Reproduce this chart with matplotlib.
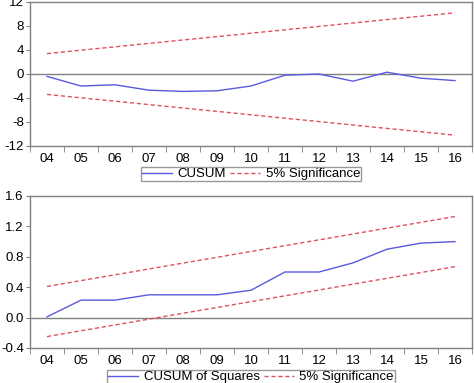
import numpy as np
import matplotlib.pyplot as plt
from matplotlib.ticker import FixedLocator, NullFormatter

plt.rcParams['font.family'] = ['Liberation Sans', 'DejaVu Sans']

years = [4, 5, 6, 7, 8, 9, 10, 11, 12, 13, 14, 15, 16]
year_labels = ['04', '05', '06', '07', '08', '09', '10', '11', '12', '13', '14', '15', '16']

cusum = [-0.4, -2.0, -1.8, -2.7, -2.9, -2.8, -2.0, -0.2, 0.0, -1.2, 0.3, -0.7, -1.1]
cusum_upper = [3.4, 3.97, 4.53, 5.1, 5.67, 6.23, 6.8, 7.37, 7.93, 8.5, 9.07, 9.63, 10.2]
cusum_lower = [-v for v in cusum_upper]

cusumsq = [0.01, 0.23, 0.23, 0.30, 0.30, 0.30, 0.36, 0.60, 0.60, 0.72, 0.90, 0.98, 1.00]
sq_upper = [0.41, 0.487, 0.563, 0.64, 0.717, 0.793, 0.87, 0.947, 1.023, 1.10, 1.177, 1.253, 1.33]
sq_lower = [-0.25, -0.173, -0.097, -0.02, 0.057, 0.133, 0.21, 0.287, 0.363, 0.44, 0.517, 0.593, 0.67]

blue = '#5a5ae0'
red = '#e0505f'
grey = '#808080'
fs = 9.5

fig = plt.figure(figsize=(4.74, 3.83), dpi=100)
ax1 = fig.add_axes([30/474, 1-146/383, 442/474, 144/383])
ax2 = fig.add_axes([30/474, 1-348/383, 442/474, 152/383])


def style(ax, ylim, yticks, fmt):
    ax.set_xlim(3.5, 16.5)
    ax.set_ylim(*ylim)
    ax.axhline(0, color=grey, lw=1, zorder=1)
    for s in ax.spines.values():
        s.set_color(grey)
        s.set_linewidth(1)
    ax.set_xticks(years)
    ax.set_xticklabels(year_labels)
    ax.xaxis.set_minor_locator(FixedLocator(np.arange(3.5, 17, 1.0)))
    ax.xaxis.set_minor_formatter(NullFormatter())
    ax.tick_params(axis='x', which='major', length=0, pad=5, labelsize=fs)
    ax.tick_params(axis='x', which='minor', length=4, color=grey, direction='out')
    ax.set_yticks(yticks)
    ax.set_yticklabels([fmt.format(v) for v in yticks])
    ax.tick_params(axis='y', length=3, color=grey, pad=1.5, labelsize=fs)


def add_legend(ax, ycenter):
    leg = ax.legend(loc='center', bbox_to_anchor=(251/474, 1-ycenter/383),
                    bbox_transform=fig.transFigure, ncol=2, fontsize=fs,
                    frameon=True, fancybox=False, edgecolor=grey,
                    handlelength=2.3, handletextpad=0.4, columnspacing=0.3,
                    borderpad=0.1, borderaxespad=0)
    leg.get_frame().set_linewidth(1)


ax1.plot(years, cusum, color=blue, lw=1, label='CUSUM')
ax1.plot(years, cusum_upper, color=red, lw=1, ls=(0, (3, 2)), label='5% Significance')
ax1.plot(years, cusum_lower, color=red, lw=1, ls=(0, (3, 2)))
style(ax1, (-12, 12), [-12, -8, -4, 0, 4, 8, 12], '{:d}')
add_legend(ax1, 174)

ax2.plot(years, cusumsq, color=blue, lw=1, label='CUSUM of Squares')
ax2.plot(years, sq_upper, color=red, lw=1, ls=(0, (3, 2)), label='5% Significance')
ax2.plot(years, sq_lower, color=red, lw=1, ls=(0, (3, 2)))
style(ax2, (-0.4, 1.6), [-0.4, 0.0, 0.4, 0.8, 1.2, 1.6], '{:.1f}')
add_legend(ax2, 377)

fig.savefig('out.png', dpi=100)
